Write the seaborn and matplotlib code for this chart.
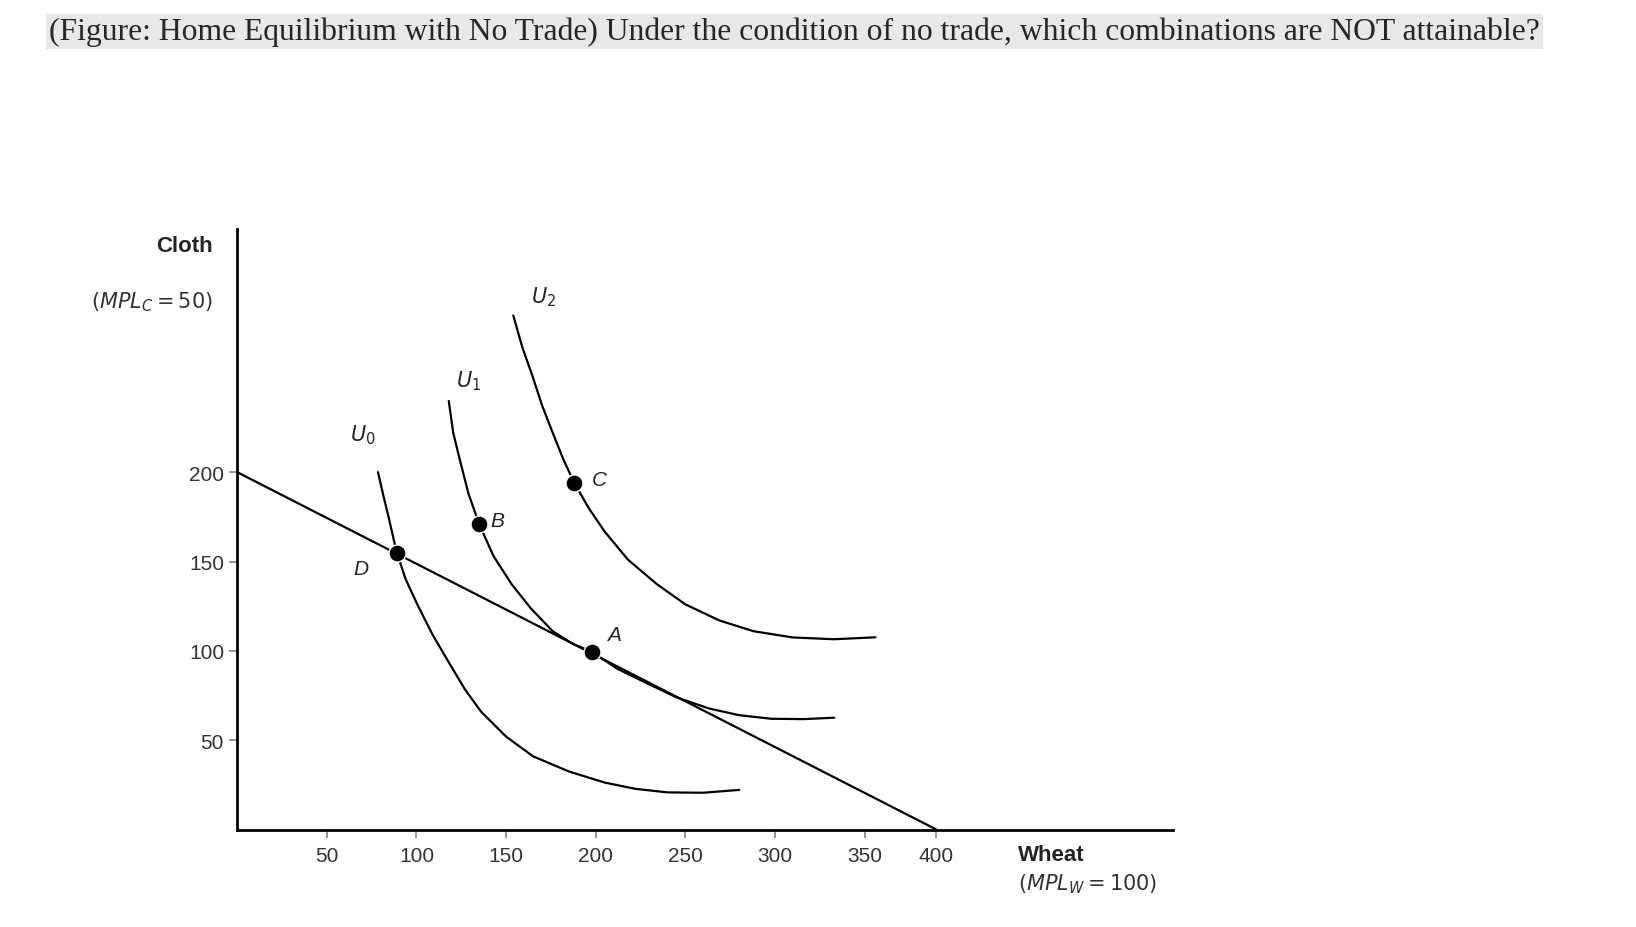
import seaborn as sns
import matplotlib.pyplot as plt
import pandas as pd

sns.set_theme(style="white")
plt.rcParams['font.family'] = ['Liberation Sans', 'DejaVu Sans']

# budget line (no-trade PPF)
ppf_x = [0, 390]
ppf_y = [200, 0]

# indifference curves, points
u0_x = [78.5, 81.5, 84.3, 86.8, 89, 94, 100.6, 109, 118, 127, 136, 150, 165, 185, 205, 222, 240, 260, 280]
u0_y = [200, 187, 175.4, 164.5, 155, 140, 125.7, 109, 93.6, 78.5, 66, 52, 41, 32.5, 26.3, 22.8, 20.8, 20.6, 22.2]
u1_x = [118, 120.5, 124, 129, 135, 143, 153, 164, 176, 187, 198, 212, 228.5, 245, 263, 280, 298, 316, 333]
u1_y = [239.8, 222, 207.6, 188, 170.8, 153, 137.4, 123.5, 111, 104, 99.4, 90, 81.9, 74, 67.8, 64, 62, 61.8, 62.6]
u2_x = [154, 159, 164.5, 170, 176, 182, 188, 196, 205, 218, 234, 250, 269, 288, 310, 333, 356]
u2_y = [287.7, 270, 254.4, 237.5, 222, 207, 194, 180, 166.7, 151, 137.4, 126, 117, 111, 107.5, 106.5, 107.6]

pts_name = ["D", "B", "A", "C"]
pts_x = [89, 135, 198, 188]
pts_y = [155, 170.8, 99.4, 194]

xtick_pos = [50, 100, 150, 200, 250, 300, 350, 390]
xtick_lab = ["50", "100", "150", "200", "250", "300", "350", "400"]
ytick_pos = [50, 100, 150, 200]

fig = plt.figure(figsize=(16.36, 9.28), dpi=100)
ax = fig.add_axes([0.145, 0.105, 0.572, 0.647])

sns.lineplot(x=ppf_x, y=ppf_y, color="black", lw=1.6, ax=ax)
for cx, cy in [(u0_x, u0_y), (u1_x, u1_y), (u2_x, u2_y)]:
    df = pd.DataFrame({"x": cx, "y": cy})
    sns.lineplot(data=df, x="x", y="y", color="black", lw=1.6, sort=False, ax=ax)
sns.scatterplot(x=pts_x, y=pts_y, color="black", s=150, zorder=5, ax=ax)

lab_off = {"D": (-20, -9), "B": (10, 2), "A": (12, 10), "C": (14, 2)}
for n, x, y in zip(pts_name, pts_x, pts_y):
    dx, dy = lab_off[n]
    ax.text(x + dx, y + dy, n, fontsize=15, style="italic", ha="center", va="center")
ax.text(70, 218, "$U_0$", fontsize=15, ha="center")
ax.text(129, 248, "$U_1$", fontsize=15, ha="center")
ax.text(171, 295, "$U_2$", fontsize=15, ha="center")

ax.set_xlim(0, 522)
ax.set_ylim(0, 336)
ax.set_xticks(xtick_pos, xtick_lab)
ax.set_yticks(ytick_pos, [str(v) for v in ytick_pos])
ax.tick_params(axis="both", labelsize=15, labelcolor="#333333", length=6, direction="out",
               bottom=True, left=True, color="#888888")
ax.tick_params(axis="x", pad=6)
ax.spines["top"].set_visible(False)
ax.spines["right"].set_visible(False)
for s in ["left", "bottom"]:
    ax.spines[s].set_linewidth(2)
    ax.spines[s].set_color("black")
ax.set_xlabel("")
ax.set_ylabel("")

fig.text(0.13, 0.728, "Cloth", fontsize=16, weight="bold", ha="right", color="#222222")
fig.text(0.13, 0.668, r"$(MPL_C = 50)$", fontsize=15, ha="right", color="#333333")
fig.text(0.622, 0.072, "Wheat", fontsize=16, weight="bold", color="#222222")
fig.text(0.622, 0.04, r"$(MPL_W = 100)$", fontsize=15, color="#333333")

fig.text(0.03, 0.965,
         "(Figure: Home Equilibrium with No Trade) Under the condition of no trade, which combinations are NOT attainable?",
         fontsize=22.8, family=["Liberation Serif", "DejaVu Serif"], va="center",
         bbox=dict(facecolor="#e8e8e8", edgecolor="none", pad=2))

fig.savefig("out.png")
